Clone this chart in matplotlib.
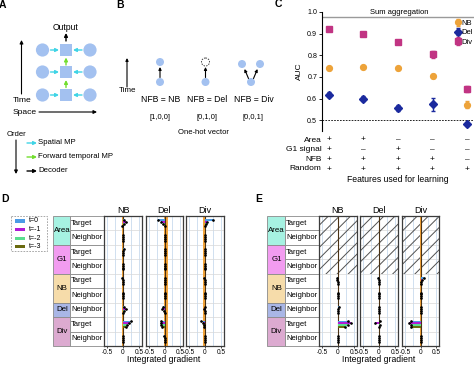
import numpy as np
import matplotlib
matplotlib.use("Agg")
import matplotlib.pyplot as plt
from matplotlib.patches import Circle, Rectangle
from matplotlib.transforms import blended_transform_factory

plt.rcParams['font.family'] = ['Liberation Sans', 'DejaVu Sans']
plt.rcParams['hatch.linewidth'] = 0.7

W, H = 474, 365

# ---- panel C data ----
auc_x = [0, 1, 2, 3, 4]
auc_nb = [0.740, 0.746, 0.740, 0.705, 0.572]
auc_nb_err = [0.006, 0.006, 0.006, 0.008, 0.018]
auc_del = [0.618, 0.600, 0.557, 0.573, 0.481]
auc_del_err = [0.012, 0.011, 0.015, 0.030, 0.010]
auc_div = [0.921, 0.900, 0.861, 0.804, 0.645]
auc_div_err = [0.005, 0.005, 0.006, 0.018, 0.015]
sum_agg = 0.977
feature_rows = ['Area', 'G1 signal', 'NFB', 'Random']
feature_marks = [['+', '+', '–', '–', '–'],
                 ['+', '–', '+', '–', '–'],
                 ['+', '+', '+', '+', '–'],
                 ['+', '+', '+', '+', '+']]

# ---- panels D / E data ----
row_labels = ['Target', 'Neighbor', 'Target', 'Neighbor', 'Target',
              'Neighbor', 'Neighbor', 'Target', 'Neighbor']
groups = ['Area', 'G1', 'NB', 'Del', 'Div']
group_sizes = [2, 2, 2, 1, 2]
group_colors = ['#a6f2e2', '#f29cf0', '#f6dcaa', '#a9b6e6', '#dcaad0']
t_labels = ['t=0', 't=-1', 't=-2', 't=-3']
t_colors = ['#4b9be6', '#b01bd6', '#5ade8f', '#6a6a10']
fb_titles = ['NB', 'Del', 'Div']

nan = np.nan
d_nb = [[0.03, 0.0, 0.02, 0.0, -0.02, 0.0, 0.03, 0.26, 0.0],
        [0.10, 0.0, 0.0, 0.0, 0.0, 0.0, 0.10, 0.20, 0.0],
        [0.02, 0.0, 0.0, 0.0, 0.0, 0.0, 0.02, 0.14, 0.0],
        [-0.03, 0.0, 0.0, 0.0, 0.0, 0.0, 0.0, 0.08, 0.0]]
d_del = [[-0.20, 0.0, 0.0, 0.0, 0.03, 0.0, -0.04, -0.10, -0.02],
         [-0.10, 0.0, 0.0, 0.0, 0.0, 0.0, -0.08, -0.12, 0.0],
         [-0.05, 0.0, 0.0, 0.0, 0.0, 0.0, -0.02, -0.10, 0.0],
         [0.0, 0.0, 0.0, 0.0, 0.0, 0.0, 0.0, -0.08, 0.0]]
d_div = [[0.25, 0.0, 0.0, 0.0, -0.02, 0.0, 0.0, -0.12, 0.0],
         [0.05, 0.0, 0.0, 0.0, 0.0, 0.0, -0.02, -0.06, 0.0],
         [0.02, 0.0, 0.0, 0.0, 0.0, 0.0, 0.0, -0.03, 0.0],
         [0.0, 0.0, 0.0, 0.0, 0.0, 0.0, 0.0, -0.02, 0.0]]
d_bands = [(-0.02, 0.02), (-0.01, 0.11), (-0.05, 0.01)]

e_nb = [[nan, nan, nan, nan, -0.03, 0.0, 0.02, 0.30, 0.0],
        [nan, nan, nan, nan, -0.02, 0.0, 0.0, 0.42, 0.0],
        [nan, nan, nan, nan, 0.0, 0.0, 0.0, 0.30, 0.0],
        [nan, nan, nan, nan, 0.0, 0.0, 0.0, 0.22, 0.0]]
e_del = [[nan, nan, nan, nan, -0.02, 0.0, 0.0, 0.02, 0.0],
         [nan, nan, nan, nan, 0.0, 0.0, 0.0, -0.12, 0.0],
         [nan, nan, nan, nan, 0.0, 0.0, 0.0, 0.03, 0.0],
         [nan, nan, nan, nan, 0.0, 0.0, 0.0, 0.0, 0.0]]
e_div = [[nan, nan, nan, nan, 0.10, 0.0, 0.0, -0.30, 0.0],
         [nan, nan, nan, nan, 0.06, 0.0, 0.0, -0.36, 0.0],
         [nan, nan, nan, nan, 0.0, 0.0, 0.0, -0.30, 0.0],
         [nan, nan, nan, nan, 0.0, 0.0, 0.0, -0.30, 0.0]]
e_bands = [(-0.01, 0.01), (-0.01, 0.01), (-0.015, 0.015)]


def rect(x0, y0, x1, y1):
    return [x0 / W, 1 - y1 / H, (x1 - x0) / W, (y1 - y0) / H]


def arrow(ax, x0, y0, x1, y1, color, lw=1.0, ms=5):
    ax.annotate('', xy=(x1, y1), xytext=(x0, y0),
                arrowprops=dict(arrowstyle='-|>', color=color, lw=lw,
                                mutation_scale=ms, shrinkA=0, shrinkB=0))


fig = plt.figure(figsize=(W / 100, H / 100), dpi=100)
bg = fig.add_axes([0, 0, 1, 1], zorder=0)
bg.set_xlim(0, W)
bg.set_ylim(H, 0)
bg.axis('off')

node = '#a3c1f0'
cyan = '#3fd4e6'
green = '#72de2e'

# ---- panel A ----
bg.text(-1, 5, 'A', fontsize=7.5, fontweight='bold', va='center')
for y in [50, 72, 95]:
    bg.add_patch(Circle((42.5, y), 6.6, color=node, lw=0))
    bg.add_patch(Circle((90, y), 6.6, color=node, lw=0))
    bg.add_patch(Rectangle((60, y - 6), 12, 12, color=node, lw=0))
    arrow(bg, 50.5, y, 59, y, cyan)
    arrow(bg, 82, y, 73, y, cyan)
arrow(bg, 66, 87.5, 66, 80, green)
arrow(bg, 66, 65, 66, 57.5, green)
arrow(bg, 66, 41, 66, 33, 'black')
bg.text(66, 27, 'Output', fontsize=6.2, ha='center', va='center')
arrow(bg, 21.5, 94, 21.5, 40, 'black', lw=0.8)
bg.text(22, 101, 'Time', fontsize=6.1, ha='center', va='center')
bg.text(25, 112, 'Space', fontsize=6.1, ha='center', va='center')
arrow(bg, 39, 112, 97, 112, 'black', lw=0.8)
bg.text(16, 134, 'Order', fontsize=5.5, ha='center', va='center')
arrow(bg, 16, 140, 16, 174, 'black', lw=0.8)
for y, c, lab in [(143, cyan, 'Spatial MP'), (157, green, 'Forward temporal MP'),
                  (171, 'black', 'Decoder')]:
    arrow(bg, 27, y, 37, y, c)
    bg.text(38.5, y, lab, fontsize=5.6, va='center')

# ---- panel B ----
bg.text(116, 5, 'B', fontsize=7.5, fontweight='bold', va='center')
arrow(bg, 127, 87, 127, 58, 'black', lw=0.8, ms=4)
bg.text(127.5, 91, 'Time', fontsize=5.8, ha='center', va='center')
r = 4
bg.add_patch(Circle((160, 62), r, color=node, lw=0))
bg.add_patch(Circle((160, 82), r, color=node, lw=0))
arrow(bg, 160, 77.5, 160, 67, 'black', lw=0.8, ms=4)
bg.add_patch(Circle((205.5, 62), r, fill=False, ec='#444', lw=0.7, ls=(0, (1.5, 1.2))))
bg.add_patch(Circle((205.5, 82), r, color=node, lw=0))
arrow(bg, 205.5, 77.5, 205.5, 67, 'black', lw=0.8, ms=4)
bg.add_patch(Circle((242, 64), r, color=node, lw=0))
bg.add_patch(Circle((260, 64), r, color=node, lw=0))
bg.add_patch(Circle((251, 82), r, color=node, lw=0))
arrow(bg, 248.5, 78.5, 244.5, 69, 'black', lw=0.8, ms=4)
arrow(bg, 253.5, 78.5, 257.5, 69, 'black', lw=0.8, ms=4)
for x, lab, vec in [(160.5, 'NFB = NB', '[1,0,0]'), (207, 'NFB = Del', '[0,1,0]'),
                    (253.5, 'NFB = Div', '[0,0,1]')]:
    bg.text(x, 99.5, lab, fontsize=6.2, ha='center', va='center')
    bg.text(x, 117.5, vec, fontsize=5.4, ha='center', va='center')
bg.text(203, 132, 'One-hot vector', fontsize=5.5, ha='center', va='center')

# ---- panel C ----
bg.text(275, 4, 'C', fontsize=7.5, fontweight='bold', va='center')
axc = fig.add_axes(rect(322, 12, 474, 131), zorder=2)
axc.patch.set_alpha(0)
axc.axhline(sum_agg, color='#9a9a9a', lw=1.0, zorder=1)
axc.text(2.05, sum_agg + 0.004, 'Sum aggregation', fontsize=5.5, ha='center', va='bottom')
axc.axhline(0.5, color='black', lw=0.6, ls=(0, (2, 1.5)), zorder=1)
axc.errorbar(auc_x, auc_nb, yerr=auc_nb_err, fmt='o', ms=4.2, color='#eda33a',
             elinewidth=1, capsize=1.2, label='NB', zorder=3)
axc.errorbar(auc_x, auc_del, yerr=auc_del_err, fmt='D', ms=3.6, color='#1b2a9e',
             elinewidth=1, capsize=1.2, label='Del', zorder=3)
axc.errorbar(auc_x, auc_div, yerr=auc_div_err, fmt='s', ms=3.8, color='#c13483',
             elinewidth=1, capsize=1.2, label='Div', zorder=3)
axc.set_xlim(-0.2, 4.2)
axc.set_ylim(0.45, 1.0)
axc.set_yticks([0.5, 0.6, 0.7, 0.8, 0.9, 1.0])
axc.set_yticklabels(['0.5', '0.6', '0.7', '0.8', '0.9', '1.0'])
axc.set_xticks([])
for s in ['top', 'right', 'bottom']:
    axc.spines[s].set_visible(False)
axc.spines['left'].set_linewidth(0.8)
axc.tick_params(axis='y', labelsize=5.1, length=2, width=0.6, pad=1.5)
axc.set_ylabel('AUC', fontsize=6, labelpad=3)
axc.legend(loc='upper right', bbox_to_anchor=(0.995, 0.935), frameon=False, fontsize=5.5,
           handlelength=0.6, handletextpad=0.25, labelspacing=0.25, borderpad=0,
           borderaxespad=0)
trans = blended_transform_factory(axc.transData, bg.transData)
for i, (name, marks) in enumerate(zip(feature_rows, feature_marks)):
    y = [140, 149.5, 159.5, 169][i]
    bg.text(321.5, y, name, fontsize=6, ha='right', va='center')
    for x, m in zip(auc_x, marks):
        bg.text(x, y, m, fontsize=6, ha='center', va='center', transform=trans)
bg.text(398, 180, 'Features used for learning', fontsize=6.2, ha='center', va='center')


# ---- panels D / E ----
def draw_ig(cat_x, lab_x, panel_x, data, bands, hatched, y0=216, y1=346):
    rowh = (y1 - y0) / 9
    r0 = 0
    for g, n, c in zip(groups, group_sizes, group_colors):
        bg.add_patch(Rectangle((cat_x[0], y0 + r0 * rowh), cat_x[1] - cat_x[0], n * rowh,
                               fc=c, ec='#8a8a8a', lw=0.6))
        bg.text((cat_x[0] + cat_x[1]) / 2 + 0.5, y0 + (r0 + n / 2) * rowh, g,
                fontsize=5.7, ha='center', va='center')
        r0 += n
    for i, lab in enumerate(row_labels):
        bg.add_patch(Rectangle((lab_x[0], y0 + i * rowh), lab_x[1] - lab_x[0], rowh,
                               fc='white', ec='#8a8a8a', lw=0.6))
        bg.text(lab_x[0] + 1.2, y0 + (i + 0.5) * rowh, lab, fontsize=5.5, va='center')
    offs = [-0.2, -0.067, 0.067, 0.2]
    rows = np.arange(9)
    for k, (px, vals, band, title) in enumerate(zip(panel_x, data, bands, fb_titles)):
        ax = fig.add_axes(rect(px[0], y0, px[1], y1), zorder=2)
        for v in [-0.5, -0.25, 0.25, 0.5]:
            ax.axvline(v, color='#c9dbee', lw=0.6, zorder=0)
        for rr in range(1, 9):
            ax.axhline(rr - 0.5, color='#d8d8d8', lw=0.5, zorder=0)
        if hatched:
            ax.add_patch(Rectangle((-0.6, -0.5), 1.2, 4, fill=False, hatch='///',
                                   ec='#505050', lw=0, zorder=1))
        ax.axvspan(band[0], band[1], color='#f3a43a', lw=0, zorder=1)
        ax.axvline(0, color='#4a3214', lw=0.8, zorder=2)
        for t in range(4):
            ax.barh(rows + offs[t], vals[t], height=0.13, color=t_colors[t], zorder=3)
            ax.errorbar(vals[t], rows + offs[t], xerr=0.015, fmt='o', ms=0.9, color='black',
                        elinewidth=0.5, capsize=0, zorder=4)
        ax.set_xlim(-0.6, 0.6)
        ax.set_ylim(8.5, -0.5)
        ax.set_yticks([])
        ax.set_xticks([-0.5, 0, 0.5])
        ax.set_xticklabels(['-0.5', '0', '0.5'])
        ax.tick_params(axis='x', labelsize=4.7, length=1.5, width=0.5, pad=1)
        for s in ax.spines.values():
            s.set_color('#3c3c3c')
            s.set_linewidth(0.9)
        ax.set_title(title, fontsize=6.5, pad=2.5)
    bg.text((panel_x[0][0] + panel_x[2][1]) / 2, 360, 'Integrated gradient',
            fontsize=6.2, ha='center', va='center')


bg.text(1, 199, 'D', fontsize=7.5, fontweight='bold', va='center')
bg.text(255, 199, 'E', fontsize=7.5, fontweight='bold', va='center')
draw_ig((53, 70), (70, 104), [(104, 142), (146, 183), (186, 224)],
        [d_nb, d_del, d_div], d_bands, False)
draw_ig((267, 285), (285, 319), [(319, 357), (360, 398), (402, 439)],
        [e_nb, e_del, e_div], e_bands, True)

# legend of D
bg.add_patch(Rectangle((11, 216), 36, 35, fill=False, ec='#9a9a9a', lw=0.6, ls=(0, (2, 1.5))))
for i, (lab, c) in enumerate(zip(t_labels, t_colors)):
    y = 221 + i * 8.6
    bg.add_patch(Rectangle((15, y - 1.6), 10, 3.2, color=c, lw=0))
    bg.text(29, y, lab, fontsize=5, va='center')

fig.savefig('out.png', dpi=100)
